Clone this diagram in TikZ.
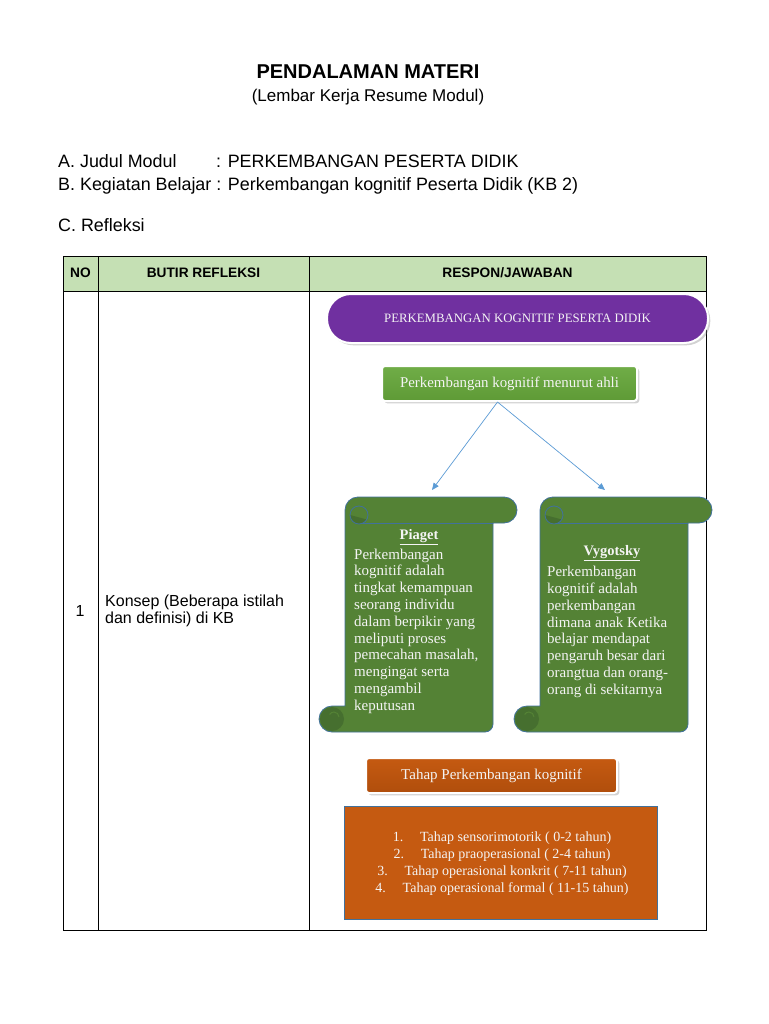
\documentclass[tikz,border=0pt]{standalone}
\usepackage{fontspec}
\setmainfont{Liberation Serif}
\newfontfamily\arial{Liberation Sans}
\usetikzlibrary{shadows,arrows.meta,calc}
\definecolor{hdrgreen}{HTML}{C5E0B4}
\definecolor{purp}{HTML}{7030A0}
\definecolor{grn}{HTML}{70AD47}
\definecolor{grnd}{HTML}{5E9A36}
\definecolor{dgrn}{HTML}{548235}
\definecolor{curl}{HTML}{466F2F}
\definecolor{orng}{HTML}{C55A11}
\definecolor{orngd}{HTML}{B04E0C}
\definecolor{bord}{HTML}{41719C}
\definecolor{arr}{HTML}{5B9BD5}
\definecolor{txtw}{HTML}{F4F4F4}
\tikzset{
  scroll/.pic={
    \path[draw=bord, line width=0.8, fill=dgrn] (40,0) -- (186,0) arc[start angle=-90,end angle=90,radius=13] -- (175,26) -- (175,227) arc[start angle=0,end angle=90,radius=8] -- (14,235) arc[start angle=90,end angle=270,radius=13] -- (27,209) -- (27,13) arc[start angle=180,end angle=270,radius=13] -- cycle;
    \draw[bord, line width=0.8] (40,26) -- (175,26);
    \fill[curl] (32,18) arc[start angle=180,end angle=30,radius=9] -- cycle;
    \draw[bord, line width=0.8] (41,18) circle (9);
    \fill[curl] (14,222) circle (12);
    \draw[dgrn, line width=1] (21,220) arc[start angle=0,end angle=-150,radius=5];
  },
  sanstxt/.style={font=\arial\fontsize{17.9}{20}\selectfont, inner sep=0},
  hdr/.style={font=\arial\bfseries\fontsize{13.7}{16}\selectfont, inner sep=0},
  purpbox/.style={rounded corners=24, fill=purp, draw=white, line width=2, text=txtw, drop shadow={opacity=0.35}, font=\fontsize{12.8}{15}\selectfont},
  grnbox/.style={rounded corners=3, top color=grn, bottom color=grnd, draw=white, line width=2, text=txtw, drop shadow={opacity=0.35}, font=\fontsize{14.9}{17}\selectfont},
  orbox/.style={rounded corners=3, top color=orng, bottom color=orngd, draw=white, line width=2, text=txtw, drop shadow={opacity=0.35}, font=\fontsize{15}{17}\selectfont},
  scrolltxt/.style={text=txtw, align=left, inner sep=0, anchor=north west, font=\fontsize{15}{16.8}\selectfont},
  arrow/.style={draw=arr, line width=0.7, -{Triangle[width=6pt,length=7pt]}}
}
\begin{document}
\begin{tikzpicture}[x=1pt,y=-1pt]
\useasboundingbox (0,0) rectangle (768,1024);
\fill[white] (0,0) rectangle (768,1024);
% header
\node[font=\arial\bfseries\fontsize{20}{22}\selectfont, inner sep=0] (title) at (368,72) {PENDALAMAN MATERI};
\node[sanstxt, font=\arial\fontsize{17}{20}\selectfont] (sub) at (368,97) {(Lembar Kerja Resume Modul)};
\node[sanstxt, anchor=west] (ja) at (58,161) {A. Judul Modul};
\node[sanstxt, anchor=west] (jb) at (216,161) {: PERKEMBANGAN PESERTA DIDIK};
\node[sanstxt, anchor=west] (kb) at (58,186) {B. Kegiatan Belajar : Perkembangan kognitif Peserta Didik (KB 2)};
\node[sanstxt, anchor=west] (rf) at (58,225) {C. Refleksi};
% table
\fill[hdrgreen] (63,256) rectangle (706,291);
\draw[line width=0.9] (63,256) rectangle (706,930);
\draw[line width=0.9] (63,291) -- (706,291);
\draw[line width=0.9] (98,256) -- (98,930);
\draw[line width=0.9] (309,256) -- (309,930);
\node[hdr] (hno) at (80.5,273) {NO};
\node[hdr] (hbr) at (203.5,273) {BUTIR REFLEKSI};
\node[hdr] (hrj) at (507.5,273) {RESPON/JAWABAN};
\node[sanstxt, font=\arial\fontsize{16}{17}\selectfont] (no1) at (80,611) {1};
\node[sanstxt, font=\arial\fontsize{16}{17}\selectfont, anchor=west, align=left] (konsep) at (105,611) {Konsep (Beberapa istilah\\dan definisi) di KB};
% diagram
\node[purpbox, minimum width=381, minimum height=49] (judul) at (517.5,318.5) {PERKEMBANGAN KOGNITIF PESERTA DIDIK};
\node[grnbox, minimum width=255, minimum height=35] (ahli) at (509.5,383.5) {Perkembangan kognitif menurut ahli};
\pic at (318,497) {scroll};
\pic at (513,497) {scroll};
\coordinate (pa) at (432,490);
\coordinate (va) at (605,490);
\draw[arrow] ([xshift=-12pt]ahli.south) -- (pa);
\draw[arrow] ([xshift=-12pt]ahli.south) -- (va);
\node[text=txtw, inner sep=0, font=\bfseries\fontsize{14.5}{16}\selectfont] (piaget) at (419,537) {\underline{Piaget}};
\node[scrolltxt] (ptxt) at (354,548.5) {Perkembangan\\kognitif adalah\\tingkat kemampuan\\seorang individu\\dalam berpikir yang\\meliputi proses\\pemecahan masalah,\\mengingat serta\\mengambil\\keputusan};
\node[text=txtw, inner sep=0, font=\bfseries\fontsize{14.5}{16}\selectfont] (vygot) at (612,553) {\underline{Vygotsky}};
\node[scrolltxt] (vtxt) at (547,566) {Perkembangan\\kognitif adalah\\perkembangan\\dimana anak Ketika\\belajar mendapat\\pengaruh besar dari\\orangtua dan orang-\\orang di sekitarnya};
\node[orbox, minimum width=251, minimum height=35] (tahap) at (491.5,775.5) {Tahap Perkembangan kognitif};
\node[fill=orng, draw=bord, line width=0.8, minimum width=313, minimum height=113] (listbox) at (500.5,862.5) {};
\node[text=txtw, align=center, inner sep=0, font=\fontsize{14}{17}\selectfont] (list) at (502,863.5) {1.\hspace{1.2em}Tahap sensorimotorik ( 0-2 tahun)\\2.\hspace{1.2em}Tahap praoperasional ( 2-4 tahun)\\3.\hspace{1.2em}Tahap operasional konkrit ( 7-11 tahun)\\4.\hspace{1.2em}Tahap operasional formal ( 11-15 tahun)};
\end{tikzpicture}
\end{document}
